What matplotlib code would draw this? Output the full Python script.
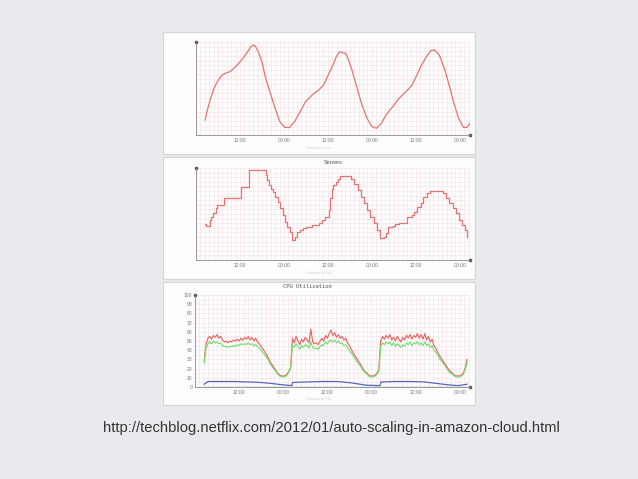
import numpy as np
import matplotlib.pyplot as plt
from matplotlib.patches import Rectangle

plt.rcParams['font.family'] = ['Liberation Sans', 'DejaVu Sans']

# ---- data (hours since start, roughly 02:30 on day 1) ----
# top panel: request rate (no y scale shown, 0-100 relative)
req_hours = [0.0, 0.6, 1.5, 2.4, 3.3, 4.6, 5.9, 6.8, 8.1, 9.0, 10.3, 11.6, 12.5, 13.2,
             13.8, 14.7, 15.6, 16.4, 17.8, 19.1, 20.4, 21.7, 23.0, 24.4, 25.7, 27.4,
             29.2, 31.0, 32.3, 33.6, 34.9, 35.8, 36.7, 37.6, 38.4, 39.3, 40.2, 41.5,
             42.8, 44.2, 45.5, 46.8, 48.1, 49.4, 51.2, 52.9, 55.1, 56.5, 57.8, 59.1,
             60.4, 61.6, 62.6, 63.9, 65.3, 66.6, 67.9, 69.2, 70.5, 71.4, 72.3]
req_rate = [16.1, 26.9, 39.4, 50.2, 57.3, 64.5, 67.0, 68.1, 72.8, 76.3, 82.4, 89.6, 95.0, 96.8,
            95.0, 87.8, 77.1, 62.7, 44.8, 28.7, 14.3, 8.2, 7.9, 14.3, 23.3, 35.8,
            43.0, 48.4, 53.8, 64.5, 75.3, 84.2, 89.6, 88.5, 87.8, 78.9, 68.1, 50.2,
            32.3, 17.9, 9.0, 7.2, 12.5, 21.5, 30.5, 39.4, 47.7, 53.8, 64.5, 75.3,
            84.2, 90.7, 91.4, 86.0, 71.7, 53.8, 34.1, 17.9, 8.2, 7.9, 12.5]

# middle panel: servers (relative)
server_hours = [0.0, 0.3, 1.3, 1.6, 2.2, 2.9, 3.3, 5.1, 9.8, 11.9, 16.1, 16.5, 17.0, 17.4,
                17.9, 18.6, 19.2, 19.8, 20.5, 21.2, 21.8, 22.4, 23.1, 23.6, 23.8, 24.5,
                25.1, 25.8, 26.7, 27.5, 29.3, 31.0, 31.9, 32.8, 33.7, 34.1, 34.6, 35.0,
                35.6, 36.3, 36.8, 39.4, 39.8, 40.7, 41.6, 42.5, 43.4, 44.2, 45.1, 46.0,
                46.9, 47.6, 48.8, 49.5, 50.0, 51.3, 51.7, 53.0, 55.2, 56.4, 57.0, 57.9,
                58.8, 59.6, 60.5, 61.4, 64.5, 64.9, 65.8, 66.7, 67.6, 68.4, 69.3, 70.2,
                70.8, 71.5]
server_count = [38.8, 37.0, 44.0, 47.1, 50.7, 56.1, 59.7, 66.9, 79.5, 97.5, 97.5, 92.1, 86.7, 81.3,
                77.7, 74.1, 68.7, 63.3, 56.1, 48.9, 41.7, 36.3, 30.9, 25.5, 21.9, 25.5,
                30.9, 32.7, 34.5, 36.3, 38.1, 39.9, 43.5, 47.1, 54.3, 66.9, 77.7, 81.3,
                84.9, 88.5, 91.4, 91.4, 88.5, 83.1, 75.9, 68.7, 61.5, 54.3, 47.1, 39.9,
                32.7, 23.7, 25.5, 29.1, 36.3, 37.4, 38.8, 39.9, 47.1, 48.9, 52.5, 57.9,
                61.5, 68.7, 72.3, 75.2, 75.2, 72.3, 66.9, 61.5, 56.1, 50.7, 43.5, 38.1,
                32.7, 25.5]

# bottom panel: CPU utilization (%), one value every half hour
cpu_hours = np.arange(0, 72, 0.5)
cpu_max = [28, 46, 53, 55, 52, 56, 54, 57, 53, 55, 51, 49, 50, 48, 50, 49, 51, 50, 52, 50, 53, 51, 54, 52,
           55, 51, 54, 50, 53, 49, 47, 44, 41, 38, 35, 31, 27, 24, 21, 18, 15, 13, 12, 12, 12, 14, 17, 21,
           53, 48, 55, 50, 46, 52, 49, 54, 51, 48, 63, 49, 47, 48, 46, 50, 53, 50, 56, 53, 58, 62, 56, 59,
           54, 57, 53, 55, 51, 53, 48, 45, 41, 37, 34, 31, 28, 25, 21, 18, 16, 14, 12, 12, 12, 13, 15, 19,
           50, 55, 52, 56, 53, 57, 51, 54, 50, 55, 52, 49, 54, 51, 56, 53, 57, 52, 56, 54, 58, 53, 57, 52,
           58, 51, 55, 49, 52, 45, 42, 38, 34, 31, 28, 25, 22, 19, 17, 15, 13, 12, 12, 12, 13, 15, 21, 30]
cpu_avg = [26, 42, 47, 49, 47, 50, 48, 49, 47, 48, 45, 44, 44, 43, 44, 44, 45, 44, 46, 45, 47, 46, 47, 46,
           48, 46, 47, 45, 46, 44, 42, 40, 37, 35, 32, 29, 25, 22, 19, 17, 14, 12, 11, 11, 11, 13, 16, 20,
           46, 43, 47, 44, 41, 45, 43, 46, 45, 42, 49, 43, 42, 42, 41, 44, 46, 45, 49, 47, 50, 51, 49, 51,
           48, 50, 47, 48, 45, 46, 43, 40, 37, 34, 31, 28, 25, 23, 19, 17, 15, 13, 11, 11, 11, 12, 14, 17,
           44, 48, 46, 49, 47, 49, 45, 48, 44, 47, 45, 43, 46, 44, 48, 46, 49, 45, 48, 47, 49, 46, 48, 45,
           49, 45, 47, 43, 45, 40, 38, 35, 31, 28, 26, 23, 20, 17, 15, 14, 12, 11, 11, 11, 12, 14, 19, 27]
low_hours = [0, 1, 2, 4, 8, 12, 15, 18, 21, 23.8, 24.1, 28, 32, 36, 40, 44, 47.8, 48.1,
             52, 56, 60, 63, 66, 69, 71.5]
cpu_min = [3, 6, 6, 6, 6, 5.5, 5, 4, 2.5, 1.5, 5, 5.5, 6, 6, 4.5, 2, 1.5, 5.5,
           6, 6, 5.5, 4, 2.5, 1.5, 3]
floor_hours = [0, 71.5]
cpu_floor = [0.4, 0.4]

time_ticks = [9.5, 21.5, 33.5, 45.5, 57.5, 69.5]
time_labels = ['12:00', '00:00', '12:00', '00:00', '12:00', '00:00']
cpu_ticks = list(range(0, 101, 10))

W, H = 638, 479
fig = plt.figure(figsize=(W / 100, H / 100), dpi=100)
fig.patch.set_facecolor('#e9eaee')


def frac(x0, y0, x1, y1):
    return [x0 / W, 1 - y1 / H, (x1 - x0) / W, (y1 - y0) / H]


# white panels (behind the axes)
for y0, y1 in [(32, 154), (157, 279), (282, 405)]:
    l, b, w, h = frac(163, y0, 475, y1)
    fig.patches.append(Rectangle((l, b), w, h, transform=fig.transFigure,
                                 fc='#fdfdfd', ec='#d4d5d9', lw=0.8, zorder=-5))
    fig.text(l + w / 2, b + 0.012, 'Powered by Flot', ha='center', va='center',
             fontsize=2.5, color='#cfcfcf')


def style(ax, ymax):
    ax.set_xlim(0, 72.3)
    ax.set_ylim(0, ymax)
    ax.set_facecolor('none')
    for s in ['top', 'right']:
        ax.spines[s].set_visible(False)
    for s in ['left', 'bottom']:
        ax.spines[s].set_color('#8a8a8a')
        ax.spines[s].set_linewidth(0.6)
    ax.set_xticks(time_ticks)
    ax.set_xticklabels(time_labels)
    ax.set_xticks(np.arange(-2.5, 72.3, 1.2), minor=True)
    ax.set_yticks(np.arange(0, ymax + 0.1, 5), minor=True)
    ax.grid(True, which='both', color='#f6dfe4', lw=0.4)
    ax.set_axisbelow(True)
    ax.tick_params(which='both', length=0, labelsize=3.6, labelcolor='#777777', pad=2)
    ax.plot([0], [1], marker='o', ms=1.6, color='#555555', transform=ax.transAxes, clip_on=False)
    ax.plot([1], [0], marker='o', ms=1.6, color='#555555', transform=ax.transAxes, clip_on=False)


# top: request rate
ax1 = fig.add_axes(frac(196, 42, 470, 135))
style(ax1, 100)
ax1.set_yticks([])
ax1.plot(req_hours, req_rate, color='#e57373', lw=0.9)

# middle: servers
ax2 = fig.add_axes(frac(196, 168, 470, 260))
style(ax2, 100)
ax2.set_yticks([])
ax2.plot(server_hours, server_count, color='#e57373', lw=0.9, drawstyle='steps-post')
ax2.set_title('Servers', fontsize=4, color='#555555', pad=3)

# bottom: CPU utilization
ax3 = fig.add_axes(frac(195, 295, 470, 387))
style(ax3, 100)
ax3.set_yticks(cpu_ticks)
ax3.plot(floor_hours, cpu_floor, color='#2f7d32', lw=0.9)
ax3.plot(low_hours, cpu_min, color='#5566c4', lw=0.9)
ax3.plot(cpu_hours, cpu_max, color='#e8605a', lw=0.8)
ax3.plot(cpu_hours, cpu_avg, color='#6fdc6f', lw=0.8)
ax3.text(0.41, 1.06, 'CPU Utilization', transform=ax3.transAxes, ha='center', va='bottom',
         fontsize=4, color='#555555', family='DejaVu Sans Mono')

fig.text(331 / W, 1 - 428 / H,
         'http://techblog.netflix.com/2012/01/auto-scaling-in-amazon-cloud.html',
         ha='center', va='center', fontsize=10.6, color='#333333')

fig.savefig('out.png', dpi=100, facecolor=fig.get_facecolor())
